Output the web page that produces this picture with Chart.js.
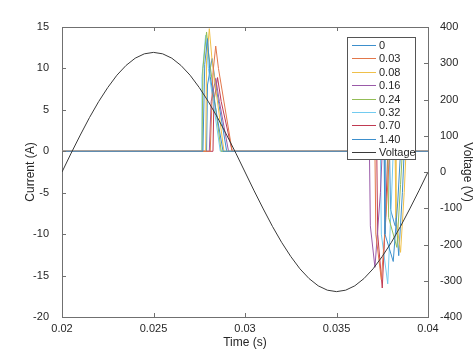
<!DOCTYPE html>
<html>
<head>
<meta charset="utf-8">
<script src="https://cdn.jsdelivr.net/npm/chart.js@4/dist/chart.umd.min.js"></script>
<style>
html,body{margin:0;padding:0;background:#fff;}
canvas{display:block;}
</style>
</head>
<body>
<canvas id="c" width="474" height="355"></canvas>
<script>
// ---- data ----
const seriesLabels = ['0','0.03','0.08','0.16','0.24','0.32','0.70','1.40'];
const seriesColors = ['#3d8fcc','#e2774a','#efc04a','#9a5aa8','#93bd56','#72cbf0','#c03a52','#3d8fcc'];

// current traces: [time (s), current (A)]
const cur000 = [[0.02,0],[0.0277,0],[0.0278,10.5],[0.02795,13.6],[0.0281,9],[0.0288,0],[0.0376,0],[0.03765,-10],[0.0381,-13.3],[0.03835,-6],[0.0385,0],[0.04,0]];
const cur003 = [[0.02,0],[0.0281,0],[0.02825,9.5],[0.0284,12.7],[0.02855,10],[0.0293,0],[0.0371,0],[0.03715,-10],[0.03745,-15.5],[0.0377,-8],[0.0379,0],[0.04,0]];
const cur008 = [[0.02,0],[0.02785,0],[0.0279,11],[0.02805,14.8],[0.0282,11],[0.02885,0],[0.0382,0],[0.03825,-8],[0.0385,-12.2],[0.0387,-5],[0.0388,0],[0.04,0]];
const cur016 = [[0.02,0],[0.02805,0],[0.02815,6],[0.0284,8.8],[0.0286,6],[0.0291,0],[0.0368,0],[0.03685,-9],[0.0371,-14],[0.0374,-5],[0.0375,0],[0.04,0]];
const cur024 = [[0.02,0],[0.02765,0],[0.0277,10],[0.0279,14.4],[0.028,12],[0.0287,0],[0.0378,0],[0.03785,-8],[0.0383,-11.6],[0.0385,-4],[0.0386,0],[0.04,0]];
const cur032 = [[0.02,0],[0.0276,0],[0.02765,9],[0.02785,14],[0.028,10],[0.02865,0],[0.0374,0],[0.03745,-10],[0.0378,-16],[0.038,-6],[0.0381,0],[0.04,0]];
const cur070 = [[0.02,0],[0.02825,0],[0.0283,6],[0.0285,8.9],[0.0287,6],[0.0293,0],[0.0372,0],[0.03725,-10],[0.0375,-16.5],[0.0377,-7],[0.0378,0],[0.04,0]];
const cur140 = [[0.02,0],[0.0279,0],[0.02795,8],[0.0282,11.2],[0.0284,8],[0.029,0],[0.0379,0],[0.03795,-7],[0.0382,-9],[0.03825,-8],[0.0384,-12.6],[0.0386,-5],[0.0387,0],[0.04,0]];
const currentSeries = [cur000,cur003,cur008,cur016,cur024,cur032,cur070,cur140];

// voltage trace
const voltTime = [0.02,0.0205,0.021,0.0215,0.022,0.0225,0.023,0.0235,0.024,0.0245,0.025,0.0255,0.026,0.0265,0.027,0.0275,0.028,0.0285,0.029,0.0295,0.03,
                  0.0305,0.031,0.0315,0.032,0.0325,0.033,0.0335,0.034,0.0345,0.035,0.0355,0.036,0.0365,0.037,0.0375,0.038,0.0385,0.039,0.0395,0.04];
const voltValue = [0,52,102,150,194,233,267,294,314,326,330,326,314,294,267,233,194,150,102,52,0,
                   -52,-102,-150,-194,-233,-267,-294,-314,-326,-330,-326,-314,-294,-267,-233,-194,-150,-102,-52,0];

const xTicks = [0.02,0.025,0.03,0.035,0.04];
const xTickLabels = ['0.02','0.025','0.03','0.035','0.04'];
const yLeftTicks = [-20,-15,-10,-5,0,5,10,15];
const yRightTicks = [-400,-300,-200,-100,0,100,200,300,400];

// ---- chart ----
const FONT = '"Liberation Sans", Arial, Helvetica, sans-serif';
const AXIS_COLOR = '#707070';
const TEXT_COLOR = '#262626';

const datasets = currentSeries.map((s, i) => ({
  label: seriesLabels[i],
  data: s.map(p => ({x: p[0], y: p[1]})),
  borderColor: seriesColors[i],
  borderWidth: 1,
  pointRadius: 0,
  yAxisID: 'y',
  order: 1
}));
datasets.push({
  label: 'Voltage',
  data: voltTime.map((t, i) => ({x: t, y: voltValue[i]})),
  borderColor: '#3a3a3a',
  borderWidth: 1,
  pointRadius: 0,
  yAxisID: 'y1',
  order: 0
});

const tickMarks = {
  id: 'tickMarks',
  afterDraw(chart) {
    const ctx = chart.ctx, a = chart.chartArea;
    ctx.save();
    ctx.strokeStyle = AXIS_COLOR;
    ctx.lineWidth = 1;
    ctx.beginPath();
    ctx.moveTo(a.left, a.top + 0.5); ctx.lineTo(a.right, a.top + 0.5);
    const L = 4;
    xTicks.forEach(v => {
      const x = Math.round(chart.scales.x.getPixelForValue(v)) + 0.5;
      ctx.moveTo(x, a.bottom); ctx.lineTo(x, a.bottom - L);
      ctx.moveTo(x, a.top); ctx.lineTo(x, a.top + L);
    });
    yLeftTicks.forEach(v => {
      const y = Math.round(chart.scales.y.getPixelForValue(v)) + 0.5;
      ctx.moveTo(a.left, y); ctx.lineTo(a.left + L, y);
    });
    yRightTicks.forEach(v => {
      const y = Math.round(chart.scales.y1.getPixelForValue(v)) + 0.5;
      ctx.moveTo(a.right, y); ctx.lineTo(a.right - L, y);
    });
    ctx.stroke();
    ctx.restore();
  }
};

const boxLegend = {
  id: 'boxLegend',
  afterDraw(chart) {
    const ctx = chart.ctx;
    const left = 347, top = 37, right = 415, bottom = 159;
    ctx.save();
    ctx.fillStyle = '#ffffff';
    ctx.fillRect(left, top, right - left, bottom - top);
    ctx.strokeStyle = '#555555';
    ctx.lineWidth = 1;
    ctx.strokeRect(left + 0.5, top + 0.5, right - left, bottom - top);
    ctx.font = '11px ' + FONT;
    ctx.textBaseline = 'middle';
    ctx.textAlign = 'left';
    const ds = chart.data.datasets;
    const step = 13.4;
    ds.forEach((d, i) => {
      const y = Math.round(top + 8 + i * step) + 0.5;
      ctx.strokeStyle = d.borderColor;
      ctx.beginPath();
      ctx.moveTo(352, y); ctx.lineTo(376, y);
      ctx.stroke();
      ctx.fillStyle = TEXT_COLOR;
      ctx.fillText(d.label, 379, y);
    });
    ctx.restore();
  }
};

new Chart(document.getElementById('c'), {
  type: 'line',
  data: { datasets },
  options: {
    responsive: false,
    animation: false,
    layout: { padding: { top: 27, left: 0, right: 0, bottom: 0 } },
    plugins: { legend: { display: false }, tooltip: { enabled: false } },
    elements: { line: { tension: 0 } },
    scales: {
      x: {
        type: 'linear', min: 0.02, max: 0.04,
        afterBuildTicks(s) { s.ticks = xTicks.map(v => ({ value: v })); },
        afterFit(s) { s.height = 38; },
        grid: { display: false },
        border: { display: true, color: AXIS_COLOR },
        ticks: {
          color: TEXT_COLOR, font: { size: 11, family: FONT }, padding: -3, maxRotation: 0, autoSkip: false,
          callback(v) { const i = xTicks.findIndex(t => Math.abs(t - v) < 1e-9); return i >= 0 ? xTickLabels[i] : ''; }
        },
        title: { display: true, text: 'Time (s)', color: TEXT_COLOR, font: { size: 12, family: FONT }, padding: { top: 0, bottom: 5 } }
      },
      y: {
        type: 'linear', position: 'left', min: -20, max: 15,
        afterBuildTicks(s) { s.ticks = yLeftTicks.map(v => ({ value: v })); },
        afterFit(s) { s.width = 62; },
        grid: { display: false },
        border: { display: true, color: AXIS_COLOR },
        ticks: { color: TEXT_COLOR, font: { size: 11, family: FONT }, padding: 5 },
        title: { display: true, text: 'Current (A)', color: TEXT_COLOR, font: { size: 12, family: FONT }, padding: { top: 23, bottom: 0 } }
      },
      y1: {
        type: 'linear', position: 'right', min: -400, max: 400,
        afterBuildTicks(s) { s.ticks = yRightTicks.map(v => ({ value: v })); },
        afterFit(s) { s.width = 46; },
        grid: { display: false },
        border: { display: true, color: AXIS_COLOR },
        ticks: { color: TEXT_COLOR, font: { size: 11, family: FONT }, padding: 4 },
        title: { display: true, text: 'Voltage (V)', color: TEXT_COLOR, font: { size: 12, family: FONT }, padding: { top: -1, bottom: 0 } }
      }
    }
  },
  plugins: [tickMarks, boxLegend]
});
</script>
</body>
</html>
